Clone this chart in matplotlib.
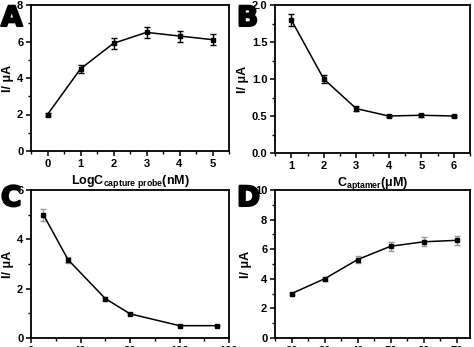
import matplotlib.pyplot as plt
import matplotlib.patheffects as pe
from matplotlib.ticker import MultipleLocator

plt.rcParams['font.family'] = ['Liberation Sans', 'DejaVu Sans']
plt.rcParams['font.weight'] = 'bold'
plt.rcParams['mathtext.fontset'] = 'custom'
plt.rcParams['mathtext.rm'] = 'Liberation Sans:bold'
plt.rcParams['mathtext.it'] = 'Liberation Sans:bold'
plt.rcParams['mathtext.bf'] = 'Liberation Sans:bold'

# panel A
a_x = [0, 1, 2, 3, 4, 5]
a_y = [2.0, 4.5, 5.9, 6.5, 6.3, 6.1]
a_err = [0.06, 0.2, 0.3, 0.3, 0.3, 0.3]
# panel B
b_x = [1, 2, 3, 4, 5, 6]
b_y = [1.8, 1.0, 0.6, 0.5, 0.51, 0.5]
b_err = [0.08, 0.05, 0.03, 0.02, 0.02, 0.02]
# panel C
c_x = [10, 30, 60, 80, 120, 150]
c_y = [5.0, 3.17, 1.6, 0.98, 0.5, 0.5]
c_err = [0.25, 0.12, 0.06, 0.04, 0.03, 0.03]
# panel D
d_x = [20, 30, 40, 50, 60, 70]
d_y = [3.0, 4.0, 5.3, 6.2, 6.5, 6.6]
d_err = [0.1, 0.15, 0.25, 0.3, 0.3, 0.3]

fig = plt.figure(figsize=(4.74, 3.47), dpi=100)

W, H = 474, 347


def make_ax(l, t, r, b):
    return fig.add_axes([l / W, 1 - b / H, (r - l) / W, (b - t) / H])


def style(ax, xlim, ylim, xmaj, xmin, ymaj, ymin):
    ax.set_xlim(*xlim)
    ax.set_ylim(*ylim)
    ax.xaxis.set_major_locator(MultipleLocator(xmaj))
    ax.xaxis.set_minor_locator(MultipleLocator(xmin))
    ax.yaxis.set_major_locator(MultipleLocator(ymaj))
    ax.yaxis.set_minor_locator(MultipleLocator(ymin))
    for s in ax.spines.values():
        s.set_linewidth(1.3)
    ax.tick_params(which='major', direction='out', length=3.5, width=1.1,
                   labelsize=8, pad=2)
    ax.tick_params(which='minor', direction='out', length=2, width=1)
    for lab in ax.get_xticklabels() + ax.get_yticklabels():
        lab.set_fontweight('bold')
    ax.set_ylabel('I/ μA', fontsize=9, fontweight='bold', labelpad=2)


def series(ax, x, y, err, ecolor):
    ax.errorbar(x, y, yerr=err, color='black', marker='s', markersize=3,
                linewidth=1.1, ecolor=ecolor, elinewidth=1, capsize=2,
                capthick=1)


axA = make_ax(31, 5, 229, 151)
series(axA, a_x, a_y, a_err, 'black')
style(axA, (-0.5, 5.5), (0, 8), 1, 0.5, 2, 1)
axA.set_xlabel(r'LogC$_{\mathregular{capture\ probe}}$(nM)', fontsize=9,
               fontweight='bold', labelpad=3)

axB = make_ax(275, 5, 470, 153)
series(axB, b_x, b_y, b_err, 'black')
style(axB, (0.5, 6.5), (0, 2.0), 1, 0.5, 0.5, 0.25)
axB.yaxis.set_major_formatter(plt.FormatStrFormatter('%.1f'))
axB.set_xlabel(r'C$_{\mathregular{aptamer}}$(μM)', fontsize=9,
               fontweight='bold', labelpad=3)

axC = make_ax(31, 190, 229, 338)
series(axC, c_x, c_y, c_err, '#999999')
style(axC, (0, 160), (0, 6), 40, 20, 2, 1)

axD = make_ax(275, 190, 470, 338)
series(axD, d_x, d_y, d_err, '#999999')
style(axD, (15, 74), (0, 10), 10, 5, 2, 1)

for lab, x, y in [('A', 1, 4), ('B', 237, 4), ('C', 1, 184), ('D', 237, 184)]:
    t = fig.text(x / W, 1 - y / H, lab, fontsize=20, fontweight='heavy',
                 family='DejaVu Sans', va='top', ha='left')
    t.set_path_effects([pe.withStroke(linewidth=1.5, foreground='black')])

fig.savefig('out.png', dpi=100)
